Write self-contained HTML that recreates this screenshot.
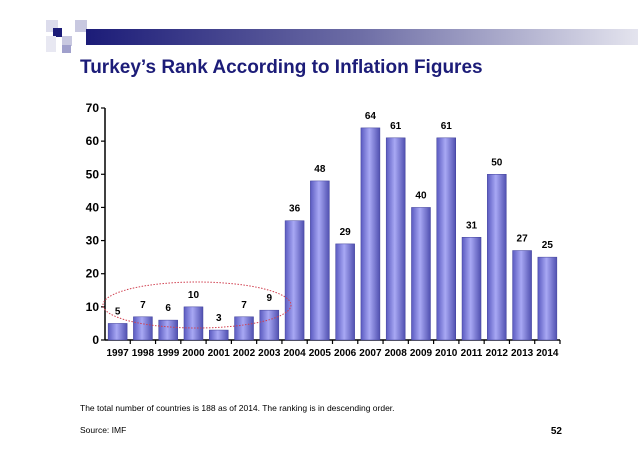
<!DOCTYPE html>
<html><head><meta charset="utf-8"><style>
body{margin:0;width:638px;height:452px;background:#fff;overflow:hidden;font-family:"Liberation Sans",Arial,sans-serif}
</style></head><body>
<svg width="638" height="452" viewBox="0 0 638 452">
<defs>
<linearGradient id="hdr" x1="0" x2="1" y1="0" y2="0"><stop offset="0" stop-color="#1c1c78"/><stop offset="0.5" stop-color="#6e6ea6"/><stop offset="1" stop-color="#e4e4ee"/></linearGradient>
<linearGradient id="bar" x1="0" x2="1" y1="0" y2="0"><stop offset="0" stop-color="#5a5ac0"/><stop offset="0.45" stop-color="#a8a8f4"/><stop offset="1" stop-color="#5050b0"/></linearGradient>
</defs>
<g>
<rect x="46" y="20" width="12" height="12" fill="#dcdcec"/>
<rect x="75" y="20" width="12" height="12" fill="#c8c8e0"/>
<rect x="53" y="28" width="9" height="9" fill="#1c1c78"/>
<rect x="62" y="36" width="10" height="10" fill="#c8c8e0"/>
<rect x="62" y="45" width="9" height="8" fill="#a0a0cc"/>
<rect x="46" y="36" width="10" height="16" fill="#e8e8f2"/>
</g>
<rect x="86" y="29" width="552" height="16" fill="url(#hdr)"/>
<text x="80" y="73" font-size="19" font-weight="bold" fill="#1c1c78">Turkey’s Rank According to Inflation Figures</text>
<g id="chart"></g>
<ellipse cx="197" cy="305" rx="94" ry="23" fill="none" stroke="#d04050" stroke-width="1" stroke-dasharray="1.5,1.5"/>
<text x="80" y="411" font-size="8.5" fill="#000">The total number of countries is 188 as of 2014. The ranking is in descending order.</text>
<text x="80" y="433" font-size="8.5" fill="#000">Source: IMF</text>
<text x="562" y="434" font-size="10" font-weight="bold" fill="#000" text-anchor="end">52</text>
</svg>
<script>
const categories=["1997","1998","1999","2000","2001","2002","2003","2004","2005","2006","2007","2008","2009","2010","2011","2012","2013","2014"];
const values=[5,7,6,10,3,7,9,36,48,29,64,61,40,61,31,50,27,25];
const yTicks=[0,10,20,30,40,50,60,70];
const NS="http://www.w3.org/2000/svg";
const g=document.getElementById('chart');
const x0=105,x1=560,y0=340,yTop=108,yMax=70;
const band=(x1-x0)/categories.length;
const xs=i=>x0+band*(i+0.5);
const ys=v=>y0-(v/yMax)*(y0-yTop);
function mk(t,a){const e=document.createElementNS(NS,t);for(const k in a)e.setAttribute(k,a[k]);g.appendChild(e);return e;}
let ax=mk('line',{x1:x0,y1:yTop,x2:x0,y2:y0,stroke:'#000','stroke-width':1.5});


let bx=mk('line',{x1:x0,y1:y0,x2:x1,y2:y0,stroke:'#000','stroke-width':1.5});


yTicks.forEach(t=>{const y=ys(t);
mk('line',{x1:x0-4,y1:y,x2:x0,y2:y,stroke:'#000','stroke-width':1.2});
const tx=mk('text',{x:x0-6,y:y+4,'font-size':12,'font-weight':'bold','text-anchor':'end'});
tx.textContent=t;

});
categories.forEach((c,i)=>{const cx=xs(i),v=values[i],w=19;
mk('line',{x1:x0+band*(i+1),y1:y0,x2:x0+band*(i+1),y2:y0+4,stroke:'#000','stroke-width':1.2});
const r=mk('rect',{x:cx-w/2,y:ys(v),width:w,height:y0-ys(v),fill:'url(#bar)',stroke:'#40409a','stroke-width':0.5});


const lb=mk('text',{x:cx,y:ys(v)-9,'font-size':10,'font-weight':'bold','text-anchor':'middle'});
lb.textContent=v;


const xl=mk('text',{x:cx,y:y0+16,'font-size':10,'font-weight':'bold','text-anchor':'middle'});
xl.textContent=c;

});
</script>
</body></html>
